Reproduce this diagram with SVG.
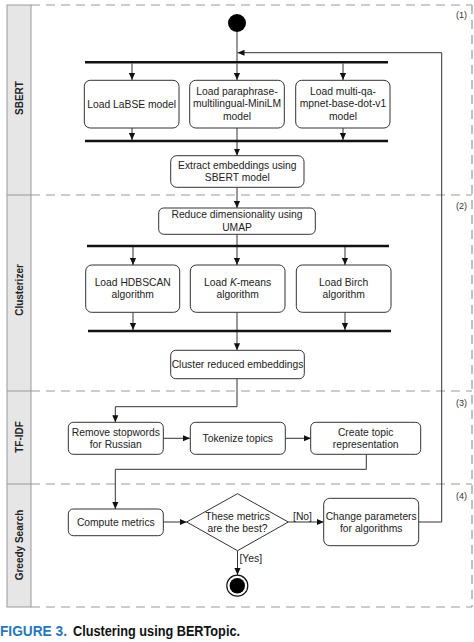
<svg xmlns="http://www.w3.org/2000/svg" width="474" height="642" viewBox="0 0 474 642">
<style>
.box{fill:#fff;stroke:#333;stroke-width:1}
.t{font-family:"Liberation Sans",Arial,sans-serif;font-size:10.3px;fill:#222;text-anchor:middle}
.lane{font-family:"Liberation Sans",Arial,sans-serif;font-size:10px;font-weight:bold;fill:#222;text-anchor:middle}
.num{font-family:"Liberation Sans",Arial,sans-serif;font-size:9px;fill:#333;text-anchor:middle}
.dash{stroke:#999;stroke-width:1.2;stroke-dasharray:9,6;fill:none}
.bar{stroke:#111;stroke-width:2.6}
.c{fill:none;stroke:#333;stroke-width:1}
.a{fill:none;stroke:#333;stroke-width:1;marker-end:url(#ah)}
</style>
<defs>
<marker id="ah" viewBox="0 0 8 8" refX="8" refY="4" markerWidth="7" markerHeight="7" markerUnits="userSpaceOnUse" orient="auto">
<path d="M0,0.5 L8,4 L0,7.5 z" fill="#111"/>
</marker>
</defs>
<rect width="474" height="642" fill="#fff"/>
<g id="frame">
<rect x="7" y="5" width="24" height="602" fill="#e6e6e6" stroke="#999" stroke-width="1"/>
<line x1="7" y1="195" x2="31" y2="195" stroke="#999"/>
<line x1="7" y1="391" x2="31" y2="391" stroke="#999"/>
<line x1="7" y1="484" x2="31" y2="484" stroke="#999"/>
<line class="dash" x1="31" y1="5" x2="472" y2="5"/>
<line class="dash" x1="31" y1="195" x2="472" y2="195"/>
<line class="dash" x1="31" y1="391" x2="472" y2="391"/>
<line class="dash" x1="31" y1="484" x2="472" y2="484"/>
<line class="dash" x1="31" y1="607" x2="472" y2="607"/>
<line class="dash" x1="472" y1="5" x2="472" y2="607"/>
<text class="lane" transform="translate(22.5,98) rotate(-90)">SBERT</text>
<text class="lane" transform="translate(22.5,290) rotate(-90)">Clusterizer</text>
<text class="lane" transform="translate(22.5,437) rotate(-90)">TF-IDF</text>
<text class="lane" transform="translate(22.5,545) rotate(-90)">Greedy Search</text>
<text class="num" x="461.5" y="18">(1)</text>
<text class="num" x="461.5" y="209">(2)</text>
<text class="num" x="461.5" y="406">(3)</text>
<text class="num" x="461.5" y="499">(4)</text>
</g>
<g id="connectors">
<line class="c" x1="237" y1="32" x2="237" y2="62"/>
<polyline class="a" points="419,522 441.7,522 441.7,52.7 237.5,52.7"/>
<line class="a" x1="132" y1="63.5" x2="132" y2="80"/>
<line class="a" x1="237" y1="63.5" x2="237" y2="80"/>
<line class="a" x1="343" y1="63.5" x2="343" y2="80"/>
<line class="a" x1="132" y1="128" x2="132" y2="140"/>
<line class="c" x1="237" y1="128" x2="237" y2="141"/>
<line class="a" x1="343" y1="128" x2="343" y2="140"/>
<line class="a" x1="237" y1="142" x2="237" y2="155.7"/>
<line class="a" x1="237" y1="187.3" x2="237" y2="208"/>
<line class="c" x1="237" y1="234.3" x2="237" y2="246"/>
<line class="a" x1="133" y1="247" x2="133" y2="265"/>
<line class="a" x1="237" y1="247" x2="237" y2="265"/>
<line class="a" x1="345" y1="247" x2="345" y2="265"/>
<line class="a" x1="133" y1="312" x2="133" y2="330"/>
<line class="c" x1="237" y1="312" x2="237" y2="331"/>
<line class="a" x1="345" y1="312" x2="345" y2="330"/>
<line class="a" x1="237" y1="332" x2="237" y2="350.3"/>
<polyline class="a" points="237,378.7 237,406.7 115.3,406.7 115.3,422.3"/>
<line class="a" x1="163" y1="438.3" x2="190" y2="438.3"/>
<line class="a" x1="285" y1="438.3" x2="311" y2="438.3"/>
<polyline class="a" points="366.3,454.3 366.3,469.3 115.3,469.3 115.3,509"/>
<line class="a" x1="163" y1="522" x2="186.7" y2="522"/>
<line class="a" x1="288.3" y1="522" x2="323.7" y2="522"/>
<line class="a" x1="237.5" y1="550.7" x2="237.5" y2="575"/>
<text class="t" x="302.5" y="519.5">[No]</text>
<text class="t" x="239.5" y="561.5" style="text-anchor:start">[Yes]</text>
<line class="bar" x1="85" y1="62.3" x2="388" y2="62.3"/>
<line class="bar" x1="85" y1="141" x2="388" y2="141"/>
<line class="bar" x1="87" y1="246" x2="389" y2="246"/>
<line class="bar" x1="88" y1="331" x2="391" y2="331"/>
</g>
<g id="start"><circle cx="237" cy="23" r="9" fill="#000"/></g>
<g id="n_labse"><rect class="box" x="84.3" y="80.3" width="94.7" height="47.7" rx="6"/><text class="t" x="131.7" y="108">Load LaBSE model</text></g>
<g id="n_minilm"><rect class="box" x="189.7" y="80.3" width="94.6" height="47.7" rx="6"/><text class="t" x="237" y="94.7">Load paraphrase-</text><text class="t" x="237" y="107.4">multilingual-MiniLM</text><text class="t" x="237" y="120">model</text></g>
<g id="n_mpnet"><rect class="box" x="295.7" y="80.3" width="94.3" height="47.7" rx="6"/><text class="t" x="343" y="94.7">Load multi-qa-</text><text class="t" x="343" y="107.4">mpnet-base-dot-v1</text><text class="t" x="343" y="120">model</text></g>
<g id="n_extract"><rect class="box" x="170.7" y="155.7" width="133.3" height="31.6" rx="6"/><text class="t" x="237.3" y="169.4">Extract embeddings using</text><text class="t" x="237.3" y="181">SBERT model</text></g>
<g id="n_umap"><rect class="box" x="158.7" y="208" width="156.6" height="26.3" rx="5"/><text class="t" x="237" y="218.4">Reduce dimensionality using</text><text class="t" x="237" y="231">UMAP</text></g>
<g id="n_hdbscan"><rect class="box" x="85.7" y="265" width="94" height="47.3" rx="6"/><text class="t" x="132.7" y="285.7">Load HDBSCAN</text><text class="t" x="132.7" y="298.4">algorithm</text></g>
<g id="n_kmeans"><rect class="box" x="190.3" y="265" width="94.7" height="47.3" rx="6"/><text class="t" x="237.6" y="285.7">Load <tspan font-style="italic">K</tspan>-means</text><text class="t" x="237.6" y="298.4">algorithm</text></g>
<g id="n_birch"><rect class="box" x="296.3" y="265" width="94.7" height="47.3" rx="6"/><text class="t" x="343.6" y="285.7">Load Birch</text><text class="t" x="343.6" y="298.4">algorithm</text></g>
<g id="n_cluster"><rect class="box" x="170.7" y="350.3" width="133.6" height="28.4" rx="5"/><text class="t" x="237.5" y="368">Cluster reduced embeddings</text></g>
<g id="n_stop"><rect class="box" x="68.3" y="422.3" width="95" height="32" rx="5"/><text class="t" x="115.8" y="436">Remove stopwords</text><text class="t" x="115.8" y="447.7">for Russian</text></g>
<g id="n_token"><rect class="box" x="190.3" y="422.3" width="95" height="32" rx="5"/><text class="t" x="237.8" y="442">Tokenize topics</text></g>
<g id="n_topic"><rect class="box" x="310.7" y="422.3" width="110" height="32" rx="5"/><text class="t" x="365.7" y="436">Create topic</text><text class="t" x="365.7" y="447.7">representation</text></g>
<g id="n_metrics"><rect class="box" x="68.3" y="509" width="95" height="26.7" rx="5"/><text class="t" x="115.8" y="526">Compute metrics</text></g>
<g id="n_best"><polygon class="box" points="237.5,493.7 288.3,522 237.5,550.7 186.7,522"/><text class="t" x="237.5" y="519.7">These metrics</text><text class="t" x="237.5" y="532">are the best?</text></g>
<g id="n_change"><rect class="box" x="323.7" y="498.3" width="95" height="47.4" rx="6"/><text class="t" x="371.2" y="519.7">Change parameters</text><text class="t" x="371.2" y="532">for algorithms</text></g>
<g id="end"><circle cx="237.3" cy="585.7" r="10.5" fill="#fff" stroke="#111" stroke-width="1.2"/><circle cx="237.3" cy="585.7" r="7.7" fill="#000"/></g>
<g id="caption">
<text x="0" y="636" font-family="'Liberation Sans',Arial,sans-serif" font-size="14" font-weight="bold" fill="#1f78c1" textLength="67" lengthAdjust="spacingAndGlyphs">FIGURE 3.</text>
<text x="73" y="636" font-family="'Liberation Sans',Arial,sans-serif" font-size="14" font-weight="bold" fill="#111" textLength="167" lengthAdjust="spacingAndGlyphs">Clustering using BERTopic.</text>
</g>
</svg>
